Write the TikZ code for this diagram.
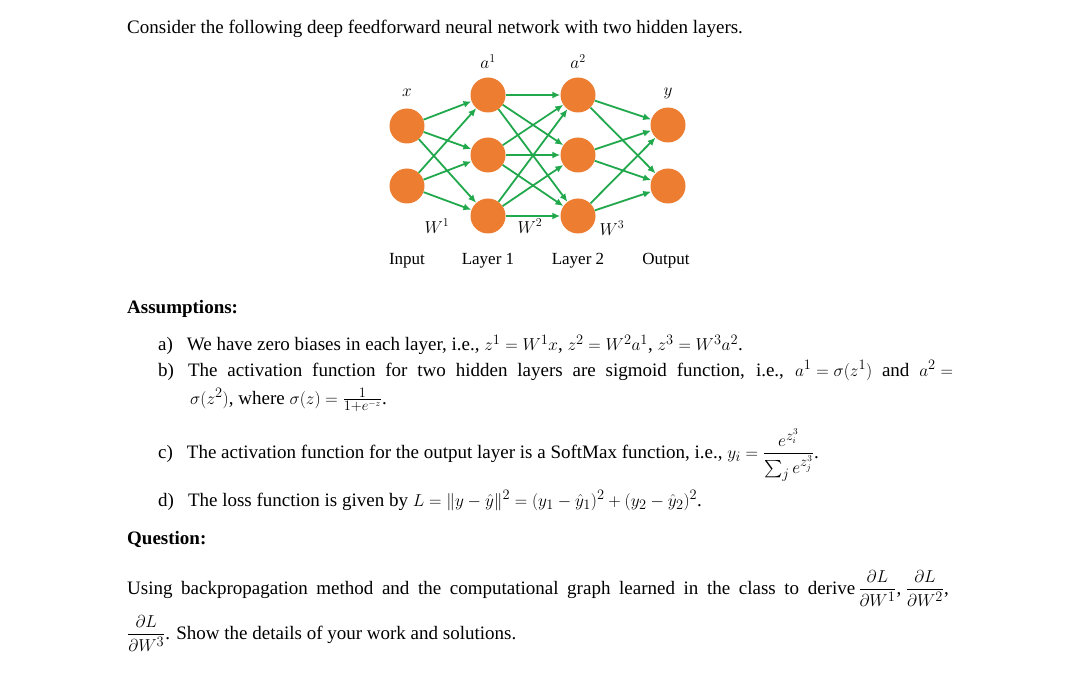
\documentclass[tikz,border=0pt]{standalone}
\usepackage{amsmath}
\usepackage{fontspec}
\setmainfont{Liberation Serif}
\usetikzlibrary{arrows.meta}
\begin{document}
\begin{tikzpicture}[x=1pt,y=-1pt,
  neuron/.style={circle,fill={rgb,255:red,237;green,125;blue,49},draw=none,minimum size=35pt,inner sep=0pt},
  syn/.style={draw={rgb,255:red,34;green,168;blue,76},line width=1.8pt,-{Latex[length=8pt,width=7pt]}},
  lbl/.style={font=\fontsize{17}{19}\selectfont,inner sep=0pt},
  txt/.style={anchor=base west,font=\fontsize{19}{22}\selectfont,inner sep=0pt}]
\useasboundingbox (0,0) rectangle (1080,679);
\node[txt] (t0) at (127,34) {Consider the following deep feedforward neural network with two hidden layers.};
% nodes
\node[neuron] (i1) at (407,126) {};
\node[neuron] (i2) at (407,186) {};
\node[neuron] (h1) at (488,95) {};
\node[neuron] (h2) at (488,155) {};
\node[neuron] (h3) at (488,216) {};
\node[neuron] (g1) at (578,95) {};
\node[neuron] (g2) at (578,155) {};
\node[neuron] (g3) at (578,216) {};
\node[neuron] (o1) at (668,125) {};
\node[neuron] (o2) at (668,186) {};
\foreach \a in {i1,i2}{\foreach \b in {h1,h2,h3}{\draw[syn] (\a) -- (\b);}}
\foreach \a in {h1,h2,h3}{\foreach \b in {g1,g2,g3}{\draw[syn] (\a) -- (\b);}}
\foreach \a in {g1,g2,g3}{\foreach \b in {o1,o2}{\draw[syn] (\a) -- (\b);}}
\node[lbl] (lx) at (407,93) {$x$};
\node[lbl] (la1) at (488,62) {$a^1$};
\node[lbl] (la2) at (578,62) {$a^2$};
\node[lbl] (ly) at (668,93) {$y$};
\node[lbl] (w1) at (437,226) {$W^1$};
\node[lbl] (w2) at (530,226) {$W^2$};
\node[lbl] (w3) at (612,228) {$W^3$};
\node[lbl] (l0) at (407,261) {Input};
\node[lbl] (l1) at (488,261) {Layer 1};
\node[lbl] (l2) at (578,261) {Layer 2};
\node[lbl] (l3) at (666,261) {Output};
% text
\node[txt] (as) at (127,314) {\textbf{Assumptions:}};
\node[txt] (ta) at (158,351) {a)\hspace{14pt}We have zero biases in each layer, i.e., $z^1=W^1x$, $z^2=W^2a^1$, $z^3=W^3a^2$.};
\node[txt] (tb) at (158,376) {b)\hspace{14pt}\makebox[765pt][s]{The activation function for two hidden layers are sigmoid function, i.e., \mbox{$a^1=\sigma(z^1)$} and \mbox{$a^2=$}}};
\node[txt] (tb2) at (190,404) {$\sigma(z^2)$, where $\sigma(z)=\frac{1}{1+e^{-z}}$.};
\node[txt] (tc) at (158,458) {c)\hspace{14pt}The activation function for the output layer is a SoftMax function, i.e., $y_i=\dfrac{e^{z_i^3}}{\sum_j e^{z_j^3}}$.};
\node[txt] (td) at (158,506) {d)\hspace{14pt}The loss function is given by $L=\|y-\hat{y}\|^2=(y_1-\hat{y}_1)^2+(y_2-\hat{y}_2)^2$.};
\node[txt] (q) at (127,544) {\textbf{Question:}};
\node[txt] (u1) at (127,594) {\makebox[728pt][s]{Using backpropagation method and the computational graph learned in the class to derive}\,$\dfrac{\partial L}{\partial W^1}$, $\dfrac{\partial L}{\partial W^2}$,};
\node[txt] (u2) at (127,639) {$\dfrac{\partial L}{\partial W^3}$. Show the details of your work and solutions.};
\end{tikzpicture}
\end{document}
